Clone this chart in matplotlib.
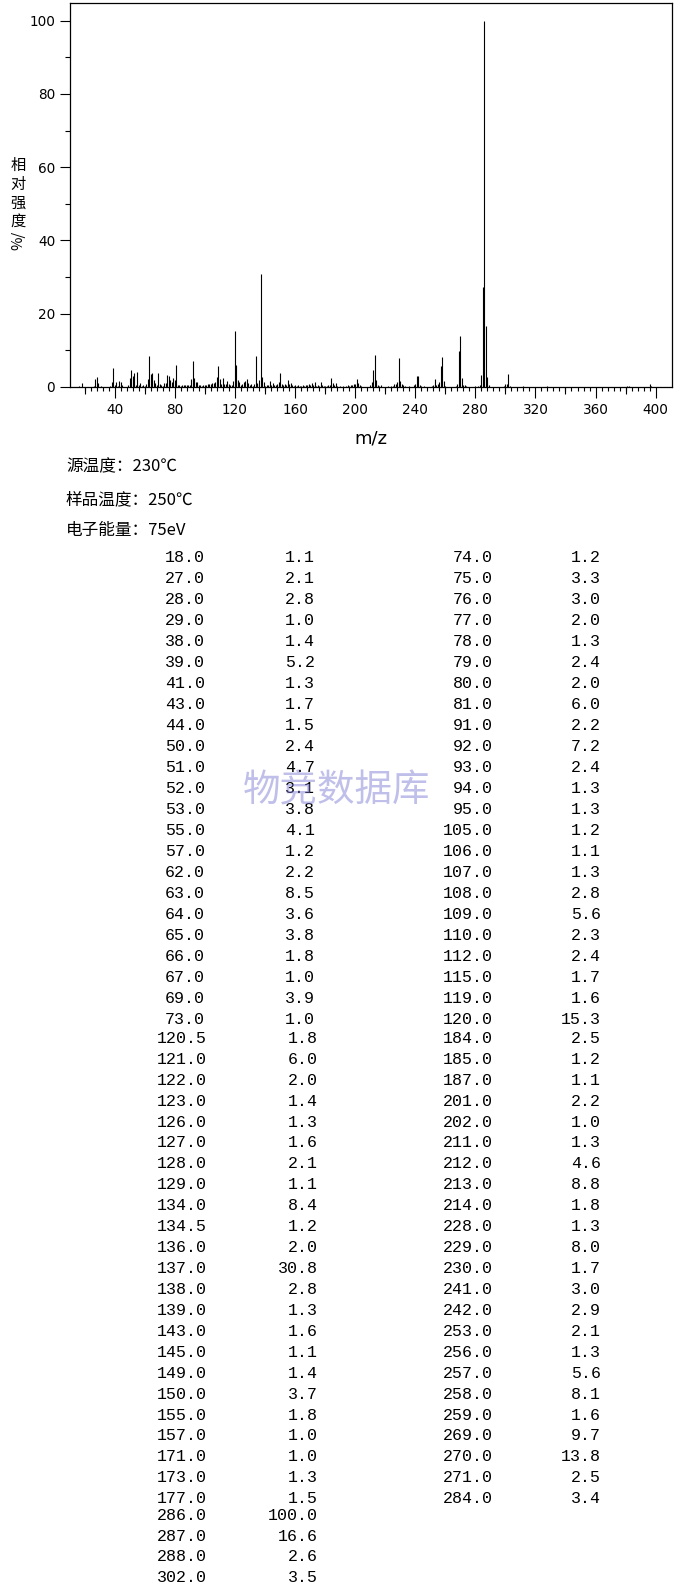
import matplotlib
matplotlib.use("Agg")
import matplotlib.pyplot as plt
from matplotlib.ticker import FixedLocator, MultipleLocator

plt.rcParams['font.family'] = ['DejaVu Sans']
CJK = ['Noto Sans CJK SC', 'DejaVu Sans']

# ---------------- data (listed peaks, in table order) ----------------
sec1_left_mz = [18.0, 27.0, 28.0, 29.0, 38.0, 39.0, 41.0, 43.0, 44.0, 50.0, 51.0, 52.0,
                53.0, 55.0, 57.0, 62.0, 63.0, 64.0, 65.0, 66.0, 67.0, 69.0, 73.0]
sec1_left_int = [1.1, 2.1, 2.8, 1.0, 1.4, 5.2, 1.3, 1.7, 1.5, 2.4, 4.7, 3.1,
                 3.8, 4.1, 1.2, 2.2, 8.5, 3.6, 3.8, 1.8, 1.0, 3.9, 1.0]
sec1_right_mz = [74.0, 75.0, 76.0, 77.0, 78.0, 79.0, 80.0, 81.0, 91.0, 92.0, 93.0, 94.0,
                 95.0, 105.0, 106.0, 107.0, 108.0, 109.0, 110.0, 112.0, 115.0, 119.0, 120.0]
sec1_right_int = [1.2, 3.3, 3.0, 2.0, 1.3, 2.4, 2.0, 6.0, 2.2, 7.2, 2.4, 1.3,
                  1.3, 1.2, 1.1, 1.3, 2.8, 5.6, 2.3, 2.4, 1.7, 1.6, 15.3]
sec2_left_mz = [120.5, 121.0, 122.0, 123.0, 126.0, 127.0, 128.0, 129.0, 134.0, 134.5, 136.0, 137.0,
                138.0, 139.0, 143.0, 145.0, 149.0, 150.0, 155.0, 157.0, 171.0, 173.0, 177.0]
sec2_left_int = [1.8, 6.0, 2.0, 1.4, 1.3, 1.6, 2.1, 1.1, 8.4, 1.2, 2.0, 30.8,
                 2.8, 1.3, 1.6, 1.1, 1.4, 3.7, 1.8, 1.0, 1.0, 1.3, 1.5]
sec2_right_mz = [184.0, 185.0, 187.0, 201.0, 202.0, 211.0, 212.0, 213.0, 214.0, 228.0, 229.0, 230.0,
                 241.0, 242.0, 253.0, 256.0, 257.0, 258.0, 259.0, 269.0, 270.0, 271.0, 284.0]
sec2_right_int = [2.5, 1.2, 1.1, 2.2, 1.0, 1.3, 4.6, 8.8, 1.8, 1.3, 8.0, 1.7,
                  3.0, 2.9, 2.1, 1.3, 5.6, 8.1, 1.6, 9.7, 13.8, 2.5, 3.4]
sec3_mz = [286.0, 287.0, 288.0, 302.0]
sec3_int = [100.0, 16.6, 2.6, 3.5]

# peaks visible in the plot but not listed
extra_mz = [16, 26, 31, 37, 40, 42, 45, 49, 54, 56, 58, 59, 60, 61, 68, 70, 71, 72,
            82, 83, 84, 85, 86, 87, 88, 89, 90, 96, 97, 98, 99, 100, 101, 102, 103, 104,
            111, 113, 114, 116, 117, 118, 124, 125, 130, 131, 132, 133, 135, 140, 141, 142,
            144, 146, 147, 148, 151, 152, 153, 154, 156, 158, 159, 160, 161, 162, 163, 164,
            165, 166, 167, 168, 169, 170, 172, 174, 175, 176, 178, 179, 180, 181, 182, 183,
            186, 188, 190, 192, 194, 195, 196, 197, 198, 199, 200, 203, 204, 210,
            215, 216, 217, 222, 224, 225, 226, 227, 231, 232, 233, 236, 239, 240, 243, 244,
            246, 251, 252, 254, 255, 260, 267, 268, 272, 273, 274, 280, 282, 283, 285,
            289, 299, 300, 301, 303, 312, 328, 381, 382, 396, 397]
extra_int = [0.3, 0.4, 0.3, 0.4, 0.5, 0.4, 0.5, 0.5, 0.6, 0.5, 0.4, 0.5, 0.4, 0.8, 0.6, 0.7, 0.5, 0.4,
             0.6, 0.5, 0.4, 0.6, 0.5, 0.6, 0.5, 0.6, 0.5, 0.6, 0.5, 0.4, 0.5, 0.6, 0.5, 0.7, 0.9, 0.8,
             0.7, 0.7, 0.8, 0.7, 0.6, 0.5, 0.6, 0.7, 0.6, 0.7, 0.4, 0.8, 0.8, 0.4, 0.6, 0.5,
             0.6, 0.6, 0.5, 0.7, 0.8, 0.6, 0.9, 0.6, 0.7, 0.5, 0.4, 0.5, 0.4, 0.5, 0.4, 0.3,
             0.5, 0.4, 0.6, 0.5, 0.7, 0.5, 0.5, 0.4, 0.5, 0.4, 0.5, 0.4, 0.3, 0.4, 0.5, 0.6,
             0.5, 0.4, 0.4, 0.4, 0.4, 0.5, 0.4, 0.5, 0.6, 0.8, 0.9, 0.5, 0.3, 0.6,
             0.6, 0.4, 0.5, 0.4, 0.4, 0.4, 0.7, 0.9, 0.7, 0.5, 0.4, 0.3, 0.5, 0.9, 0.6, 0.4,
             0.3, 0.4, 0.6, 0.6, 0.9, 0.4, 0.4, 0.9, 0.6, 0.6, 0.4, 0.3, 0.3, 0.6, 27.4,
             0.5, 0.4, 0.7, 0.8, 0.3, 0.2, 0.2, 0.3, 0.3, 0.8, 0.3]

info_lines = ['源温度：230℃', '样品温度：250℃', '电子能量：75eV']
y_ticks = [0, 20, 40, 60, 80, 100]
x_ticks = [40, 80, 120, 160, 200, 240, 280, 320, 360, 400]

# ---------------- figure ----------------
W, H = 680, 1587
fig = plt.figure(figsize=(W / 100, H / 100), dpi=100)


def fx(px):
    return px / W


def fy(py):
    return 1 - py / H


ax = fig.add_axes([fx(70), fy(387), (672 - 70) / W, (387 - 3) / H])
all_mz = sec1_left_mz + sec1_right_mz + sec2_left_mz + sec2_right_mz + sec3_mz + extra_mz
all_int = sec1_left_int + sec1_right_int + sec2_left_int + sec2_right_int + sec3_int + extra_int
ax.vlines(all_mz, 0, all_int, colors='black', linewidth=0.8)
ax.set_xlim(10.2, 410.9)
ax.set_ylim(0, 104.8)

for s in ax.spines.values():
    s.set_linewidth(0.9)
    s.set_color('black')

ax.yaxis.set_major_locator(FixedLocator(y_ticks))
ax.yaxis.set_minor_locator(MultipleLocator(10))
ax.xaxis.set_major_locator(FixedLocator(x_ticks))
ax.xaxis.set_minor_locator(FixedLocator(list(range(20, 401, 4))))
ax.tick_params(axis='y', which='major', length=7.2, width=0.8, pad=3.5, labelsize=9.8)
ax.tick_params(axis='y', which='minor', length=3.6, width=0.8)
ax.tick_params(axis='x', which='major', length=8.0, width=0.8, pad=3.5, labelsize=9.8)
ax.tick_params(axis='x', which='minor', length=2.9, width=0.8)

sec = ax.secondary_xaxis('bottom')
sec.set_xticks(list(range(20, 401, 40)))
sec.tick_params(axis='x', length=5.0, width=0.8, labelbottom=False)
sec.spines['bottom'].set_visible(False)

ax.set_xlabel('m/z', fontsize=13, labelpad=9)

# vertical y label
for ch, yy in zip('相对强度', [165, 184, 203, 221]):
    fig.text(fx(18), fy(yy), ch, family=CJK, fontsize=11, ha='center', va='center')
fig.text(fx(18), fy(240), '%/', family=CJK, fontsize=10.5, ha='center', va='center', rotation=90)

# info lines
for line, yy in zip(info_lines, [467, 500, 530]):
    fig.text(fx(66), fy(yy), line, family=CJK, fontsize=12, ha='left', va='center')

# table
MONO = ['Liberation Mono', 'DejaVu Sans Mono']


def table_col(mzs, ints, y0, dy, xm, xi):
    for i, (m, v) in enumerate(zip(mzs, ints)):
        y = y0 + i * dy
        fig.text(fx(xm), fy(y), f'{m:.1f}', family=MONO, fontsize=12, ha='right', va='center')
        fig.text(fx(xi), fy(y), f'{v:.1f}', family=MONO, fontsize=12, ha='right', va='center')


table_col(sec1_left_mz, sec1_left_int, 557.6, 20.98, 205, 315)
table_col(sec1_right_mz, sec1_right_int, 557.6, 20.98, 493, 601)
table_col(sec2_left_mz, sec2_left_int, 1038.3, 20.93, 207, 318)
table_col(sec2_right_mz, sec2_right_int, 1038.3, 20.93, 493, 601)
table_col(sec3_mz, sec3_int, 1515.5, 20.6, 207, 318)

# watermark (drawn over the table, as in the reference)
fig.text(fx(337), fy(791), '物竞数据库', family=CJK, fontsize=27, color=(0.45, 0.45, 0.82),
         alpha=0.45, ha='center', va='center', zorder=10)

fig.savefig('out.png', dpi=100)
